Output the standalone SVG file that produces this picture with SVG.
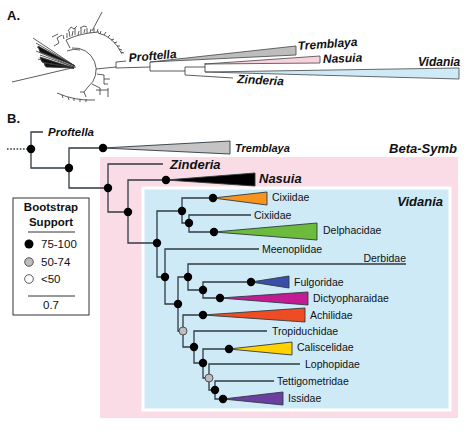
<svg xmlns="http://www.w3.org/2000/svg" width="474" height="441" viewBox="0 0 474 441">
<style>
.bi{font-family:"Liberation Sans",Arial,sans-serif;font-weight:bold;font-style:italic;fill:#111}
.b{font-family:"Liberation Sans",Arial,sans-serif;font-weight:bold;fill:#111}
.r{font-family:"Liberation Sans",Arial,sans-serif;fill:#111;font-size:10.5px}
.lg{font-family:"Liberation Sans",Arial,sans-serif;fill:#111;font-size:11.5px}
.br{fill:none;stroke:#2f3a42;stroke-width:1.3}
.ra{fill:none;stroke:#333;stroke-width:0.8}
.tri{stroke:#2f3a42;stroke-width:0.9}
.nd{fill:#000}
.gn{fill:#bdbdbd;stroke:#333;stroke-width:0.8}
</style>
<rect width="474" height="441" fill="#fff"/>

<!-- Panel A -->
<g id="panelA">
<text class="b" x="7" y="20" font-size="13">A.</text>
<g id="radial-tree" class="ra">
<path d="M72,48 A22,22 0 0 1 88,87"/>
<path d="M67,51 A19,19 0 0 1 80,50"/>
<path d="M70,48 L66,40 Q80,33 99,32"/>
<path d="M64,39 l-1,-4 M67,38 l0,-5 M70,37 l-1,-6 M72,36 l1,-5 M75,35 l0,-7 M78,35 l1,-4 M81,34 l0,-6 M84,33 l1,-4 M87,33 l0,-5 M90,33 l1,-4 M94,32 l0,-4 M97,32 l1,-3"/>
<path d="M68,31 l3,-4 l3,2 l3,-3 M80,28 l4,-2 l3,1"/>
<path d="M92,31 L102,12"/>
<path d="M62,35 L57,38 L59,43 L54,46 M58,34 L52,37"/>
<path d="M98,33 Q113,36 122,54"/>
<path d="M100,34 l1,-3 M104,35 l2,-3 M108,37 l2,-2 M111,40 l3,-1 M114,43 l3,-1 M117,46 l3,0 M119,49 l3,1 M121,52 l3,1"/>
<path d="M75,66 L33,38 M75,66 L36,43 M75,66 L37,47 M74,67 L36,51 M74,67 L40,55 M74,68 L38,59 M74,68 L42,62 M74,68 L44,65 M76,67 L12,82"/>
<polygon points="75,66 38,46 40,52" fill="#111"/>
<polygon points="74,68 40,57 42,62" fill="#111"/>
<polygon points="74,68 44,63 46,67" fill="#111"/>
<path d="M96,69 L116,67"/>
<path d="M97,74 L104,75 V84 L108,84 M104,79 H110 M92,84 L100,88 L100,95 M96,90 H108 M108,88 V97"/>
<path d="M88,87 L84,92 L80,92 M84,92 L86,97 M57,93 Q75,101 95,100 M62,95 l1,3 M68,97 l1,3 M74,98 l0,3 M80,99 l0,3 M86,99 l0,3"/>
</g>
<g id="A-connectors" class="ra" stroke-width="0.9">
<path d="M126,61 L116,62 V68 L150,67"/>
<path d="M150,62 V71 L185,71"/>
<path d="M185,67 V75 L233,78"/>
<path d="M185,67 L205,67"/>
<path d="M205,63 V72"/>
</g>
<g id="A-Tremblaya">
<polygon points="150,62 296,46 296,55" fill="#bdbdbd" stroke="#444" stroke-width="0.8"/>
<text class="bi" x="298" y="50" font-size="12" transform="rotate(-4 298 50)">Tremblaya</text>
</g>
<g id="A-Nasuia">
<polygon points="205,64 320,56 320,63" fill="#f8d3de" stroke="#444" stroke-width="0.8"/>
<text class="bi" x="323" y="63" font-size="12" transform="rotate(-2 323 63)">Nasuia</text>
</g>
<g id="A-Vidania">
<polygon points="205,72 459,68 459,79" fill="#cfeaf7" stroke="#444" stroke-width="0.8"/>
<text class="bi" x="418" y="66" font-size="12">Vidania</text>
</g>
<g id="A-Zinderia">
<text class="bi" x="237" y="83" font-size="12" transform="rotate(3 237 83)">Zinderia</text>
</g>
<g id="A-Proftella">
<text class="bi" x="129" y="62" font-size="12" transform="rotate(-5 129 62)">Proftella</text>
</g>
</g>

<!-- Panel B -->
<text class="b" x="7" y="123" font-size="13">B.</text>

<g id="Beta-Symb">
<rect x="100" y="157" width="358" height="261" fill="#f9dce6"/>
<text class="bi" x="457" y="153" font-size="13" text-anchor="end">Beta-Symb</text>
</g>
<g id="Vidania-box">
<rect x="143" y="188" width="307" height="222" fill="#cfeaf7" stroke="#fff" stroke-width="3"/>
<text class="bi" x="443" y="206" font-size="13" text-anchor="end">Vidania</text>
</g>

<g id="connectors" class="br">
<path d="M7,149 H27" stroke-dasharray="1.6,1.6" stroke-width="1.5"/>
<path d="M27,149 H31"/>
<path d="M43,132 H31 V168 H69"/>
<path d="M103,148 H69 V188 H108"/>
<path d="M163,164 H108 V212 H128"/>
<path d="M166,180 H128 V243 H157"/>
<path d="M182,211 H157 V277 H165"/>
<path d="M213,198 H182 V223 H189"/>
<path d="M251,215 H189 V232 H214"/>
<path d="M259,249 H165 V304 H178"/>
<path d="M188,277 H178 V331 H183"/>
<path d="M406,264 H188 V290 H203"/>
<path d="M251,282 H203 V298 H220"/>
<path d="M203,315 H183 V347 H194"/>
<path d="M267,331 H194 V363 H203"/>
<path d="M229,349 H203 V378 H209"/>
<path d="M300,364 H209 V390 H215"/>
<path d="M274,381 H215 V399 H223"/>
</g>

<g id="Proftella"><text class="bi" x="48" y="136" font-size="11.5">Proftella</text></g>
<g id="Tremblaya">
<polygon class="tri" points="103,148 230,141 230,154" fill="#c4c4c4"/>
<text class="bi" x="235" y="152" font-size="11">Tremblaya</text>
</g>
<g id="Zinderia"><text class="bi" x="170" y="169" font-size="13">Zinderia</text></g>
<g id="Nasuia">
<polygon class="tri" points="166,180 255,173 255,186" fill="#000"/>
<text class="bi" x="259" y="183" font-size="13">Nasuia</text>
</g>
<g id="Cixiidae1">
<polygon class="tri" points="213,198 267,192 267,205" fill="#f7941d"/>
<text class="r" x="272" y="201">Cixiidae</text>
</g>
<g id="Cixiidae2"><text class="r" x="254" y="218.5">Cixiidae</text></g>
<g id="Delphacidae">
<polygon class="tri" points="214,232 317,223 317,240" fill="#6dbb3c"/>
<text class="r" x="323" y="234">Delphacidae</text>
</g>
<g id="Meenoplidae"><text class="r" x="262" y="252.5">Meenoplidae</text></g>
<g id="Derbidae"><text class="r" x="406" y="262" text-anchor="end">Derbidae</text></g>
<g id="Fulgoridae">
<polygon class="tri" points="251,282 289,276 289,288" fill="#3a4fa5"/>
<text class="r" x="294" y="286">Fulgoridae</text>
</g>
<g id="Dictyopharaidae">
<polygon class="tri" points="220,298 308,292 308,305" fill="#c21c92"/>
<text class="r" x="313" y="302">Dictyopharaidae</text>
</g>
<g id="Achilidae">
<polygon class="tri" points="203,315 305,308 305,322" fill="#ee4d23"/>
<text class="r" x="310" y="319">Achilidae</text>
</g>
<g id="Tropiduchidae"><text class="r" x="272" y="335">Tropiduchidae</text></g>
<g id="Caliscelidae">
<polygon class="tri" points="229,349 292,342 292,355" fill="#ffd200"/>
<text class="r" x="297" y="351">Caliscelidae</text>
</g>
<g id="Lophopidae"><text class="r" x="305" y="368">Lophopidae</text></g>
<g id="Tettigometridae"><text class="r" x="277" y="385">Tettigometridae</text></g>
<g id="Issidae">
<polygon class="tri" points="223,399 283,392 283,405" fill="#6a3f9e"/>
<text class="r" x="288" y="402">Issidae</text>
</g>

<g id="support-nodes">
<circle class="nd" cx="31" cy="149" r="4.2"/>
<circle class="nd" cx="69" cy="168" r="4.2"/>
<circle class="nd" cx="103" cy="148" r="4.2"/>
<circle class="nd" cx="108" cy="188" r="4.2"/>
<circle class="nd" cx="128" cy="212" r="4.2"/>
<circle class="nd" cx="166" cy="180" r="4.2"/>
<circle class="nd" cx="157" cy="243" r="4.2"/>
<circle class="nd" cx="182" cy="211" r="4.2"/>
<circle class="nd" cx="213" cy="198" r="4.2"/>
<circle class="nd" cx="189" cy="223" r="4.2"/>
<circle class="nd" cx="214" cy="232" r="4.2"/>
<circle class="nd" cx="165" cy="277" r="4.2"/>
<circle class="nd" cx="178" cy="304" r="4.2"/>
<circle class="nd" cx="188" cy="277" r="4.2"/>
<circle class="nd" cx="203" cy="290" r="4.2"/>
<circle class="nd" cx="251" cy="282" r="4.2"/>
<circle class="nd" cx="220" cy="298" r="4.2"/>
<circle class="nd" cx="203" cy="315" r="4.2"/>
<circle class="nd" cx="194" cy="347" r="4.2"/>
<circle class="nd" cx="229" cy="349" r="4.2"/>
<circle class="nd" cx="203" cy="363" r="4.2"/>
<circle class="nd" cx="215" cy="390" r="4.2"/>
<circle class="nd" cx="223" cy="399" r="4.2"/>
<circle class="gn" cx="183" cy="331" r="4"/>
<circle class="gn" cx="209" cy="378" r="4"/>
</g>

<g id="legend">
<rect x="13" y="198" width="76" height="117" fill="#fff" stroke="#333" stroke-width="1"/>
<text class="b" x="51" y="211" font-size="11.5" text-anchor="middle">Bootstrap</text>
<text class="b" x="51" y="226" font-size="11.5" text-anchor="middle">Support</text>
<line x1="28" y1="232" x2="75" y2="232" stroke="#333" stroke-width="1"/>
<circle cx="29" cy="244" r="4.5" fill="#000"/>
<text class="lg" x="41" y="248">75-100</text>
<circle cx="29" cy="262" r="4.3" fill="#bdbdbd" stroke="#333" stroke-width="0.8"/>
<text class="lg" x="41" y="266">50-74</text>
<circle cx="29" cy="279" r="4.3" fill="#fff" stroke="#333" stroke-width="0.8"/>
<text class="lg" x="41" y="283">&lt;50</text>
<line x1="28" y1="296" x2="75" y2="296" stroke="#333" stroke-width="1"/>
<text class="lg" x="51" y="309" text-anchor="middle">0.7</text>
</g>
</svg>
